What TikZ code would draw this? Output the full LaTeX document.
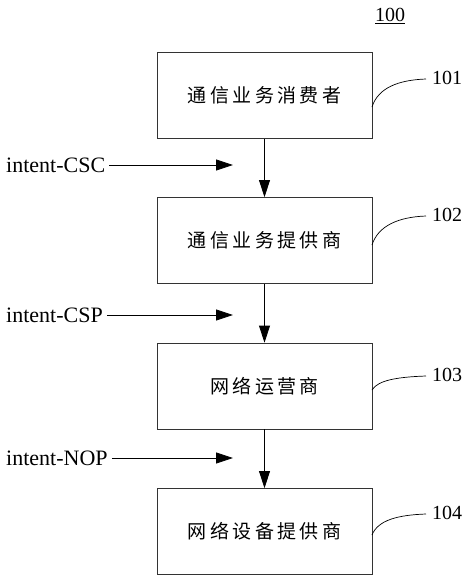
\documentclass[tikz,border=0pt]{standalone}
\usepackage{fontspec}
\setmainfont{Liberation Serif}
\newfontfamily\cjk[LetterSpace=18]{Noto Sans CJK SC}
\usetikzlibrary{arrows.meta}
\begin{document}
\begin{tikzpicture}[x=1pt,y=-1pt,
  boxnode/.style={draw=black!80,line width=0.8pt,minimum width=215pt,minimum height=86pt,inner sep=0pt,font=\cjk\fontsize{19}{21}\selectfont},
  lbl/.style={anchor=west,inner sep=0pt,font=\fontsize{22}{24}\selectfont},
  num/.style={anchor=west,inner sep=0pt,font=\fontsize{20}{22}\selectfont},
  arr/.style={line width=0.8pt,-{Triangle[length=17pt,width=11pt]}},
  lead/.style={line width=0.7pt}]
\useasboundingbox (0,0) rectangle (474,582);
\node[boxnode] (b1) at (264.5,95.5) {通信业务消费者};
\node[boxnode] (b2) at (264.5,240.5) {通信业务提供商};
\node[boxnode] (b3) at (264.5,386) {网络运营商};
\node[boxnode] (b4) at (264.5,531.5) {网络设备提供商};
\draw[arr] (b1) -- (b2);
\draw[arr] (b2) -- (b3);
\draw[arr] (b3) -- (b4);
\node[lbl] (l1) at (6,165) {intent-CSC};
\node[lbl] (l2) at (6,315) {intent-CSP};
\node[lbl] (l3) at (6,458) {intent-NOP};
\coordinate (e1) at (233,165);
\coordinate (e2) at (233,315);
\coordinate (e3) at (233,458);
\draw[arr] ([xshift=4pt]l1.east) -- (e1);
\draw[arr] ([xshift=4pt]l2.east) -- (e2);
\draw[arr] ([xshift=4pt]l3.east) -- (e3);
\node[inner sep=0pt,font=\fontsize{20}{22}\selectfont] (n0) at (390,16) {\underline{100}};
\node[num] (n1) at (432,78) {101};
\node[num] (n2) at (432,215) {102};
\node[num] (n3) at (432,375) {103};
\node[num] (n4) at (432,513) {104};
\coordinate (s1) at (372,107);
\coordinate (s2) at (372,245);
\coordinate (s3) at (372,390);
\coordinate (s4) at (372,535);
\coordinate (t1) at (426,79);
\coordinate (t2) at (426,216);
\coordinate (t3) at (426,376);
\coordinate (t4) at (426,514);
\draw[lead] (s1) .. controls (378,88) and (398,80) .. (t1);
\draw[lead] (s2) .. controls (378,226) and (398,217) .. (t2);
\draw[lead] (s3) .. controls (378,380) and (398,377) .. (t3);
\draw[lead] (s4) .. controls (378,520) and (398,515) .. (t4);
\end{tikzpicture}
\end{document}
